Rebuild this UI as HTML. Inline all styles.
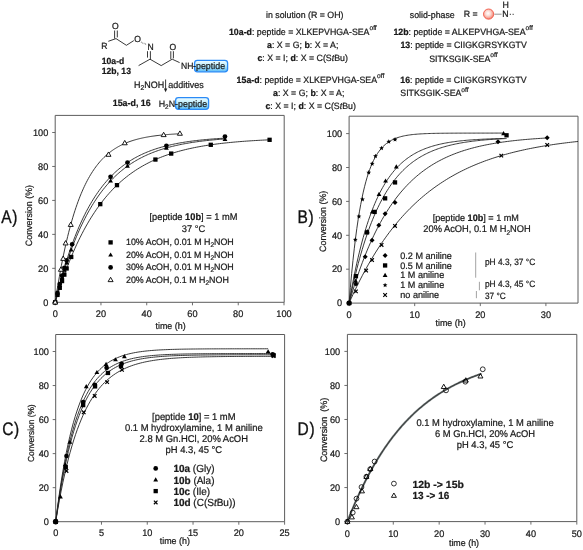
<!DOCTYPE html>
<html><head><meta charset="utf-8"><title>Figure</title>
<style>html,body{margin:0;padding:0;background:#fff;}svg{display:block;}text{stroke:#1a1a1a;stroke-width:0.22px;}</style>
</head><body>
<svg width="583" height="550" viewBox="0 0 583 550" font-family='"Liberation Sans", Arial, sans-serif'>
<rect width="583" height="550" fill="#fff"/>
<defs>
<linearGradient id="pill" x1="0" y1="0" x2="0" y2="1">
<stop offset="0" stop-color="#f2fdff"/><stop offset="0.45" stop-color="#bdeeff"/><stop offset="1" stop-color="#5cbcf6"/>
</linearGradient>
<radialGradient id="ball" cx="0.45" cy="0.42" r="0.62">
<stop offset="0" stop-color="#ffffff"/><stop offset="0.4" stop-color="#fcdcd5"/><stop offset="0.75" stop-color="#f7a092"/><stop offset="1" stop-color="#f06a58"/>
</radialGradient>
</defs>
<path d="M108.3 41.3L116 38.6L126.4 45.3L133.8 40.6" fill="none" stroke="#222" stroke-width="0.9"/><path d="M114.6 30.5V38.6M117.3 30.5V37.4" stroke="#222" stroke-width="0.9"/><path d="M141 42.2L146.6 44.6" stroke="#777" stroke-width="1.4" stroke-dasharray="0.7 0.8"/><path d="M147.5 51.2V57.6M150.4 51.2V59.4" stroke="#222" stroke-width="0.9"/><path d="M138.6 65.6L150 59.2L161.2 65.6L172.2 59.2L179.6 62.6" fill="none" stroke="#222" stroke-width="0.9"/><path d="M170.8 51.2V59.2M173.4 51.2V58.4" stroke="#222" stroke-width="0.9"/><text x="101.3" y="48.8" font-size="8.6" fill="#1a1a1a" transform="matrix(1 0 0.000524 1.04 -0.03 -1.95)">R</text><text x="112" y="29.3" font-size="8.6" fill="#1a1a1a" transform="matrix(1 0 0.000524 1.04 -0.02 -1.17)">O</text><text x="134.2" y="42.3" font-size="8.6" fill="#1a1a1a" transform="matrix(1 0 0.000524 1.04 -0.02 -1.69)">O</text><text x="147.5" y="50.0" font-size="8.6" fill="#1a1a1a" transform="matrix(1 0 0.000524 1.04 -0.03 -2)">N</text><text x="169.5" y="50.1" font-size="8.6" fill="#1a1a1a" transform="matrix(1 0 0.000524 1.04 -0.03 -2)">O</text><text x="181" y="69.5" font-size="8.6" fill="#1a1a1a" transform="matrix(1 0 0.000524 1.04 -0.04 -2.78)">NH</text><text x="101.8" y="63.7" font-size="8.6" font-weight="bold" fill="#1a1a1a" transform="matrix(1 0 0.000524 1.04 -0.03 -2.55)">10a-d</text><text x="101.8" y="73.6" font-size="8.6" font-weight="bold" fill="#1a1a1a" transform="matrix(1 0 0.000524 1.04 -0.04 -2.94)">12b, 13</text><rect x="194.6" y="60.3" width="33" height="11.5" rx="2.8" fill="url(#pill)" stroke="#2a8af6" stroke-width="1.3"/><text x="193" y="68.8" font-size="8.9" fill="#1a1a1a" transform="matrix(1 0 0.000524 1.04 -0.04 -2.75)">-peptide</text><path d="M165.6 79.5V89.5" stroke="#222" stroke-width="0.9"/><path d="M163.9 88.6L165.6 92.2L167.3 88.6Z" fill="#222"/><text x="134" y="87.8" font-size="9" fill="#1a1a1a" transform="matrix(1 0 0.000524 1.04 -0.05 -3.51)">H<tspan font-size="6.8" dy="2.2">2</tspan><tspan dy="-2.2">NOH</tspan></text><text x="168.3" y="87.8" font-size="9" fill="#1a1a1a" transform="matrix(1 0 0.000524 1.04 -0.05 -3.51)">additives</text><text x="112.7" y="106.4" font-size="8.9" font-weight="bold" fill="#1a1a1a" transform="matrix(1 0 0.000524 1.04 -0.06 -4.26)">15a-d, 16</text><rect x="175.6" y="97.7" width="33" height="11.6" rx="2.8" fill="url(#pill)" stroke="#2a8af6" stroke-width="1.3"/><text x="158.7" y="106.6" font-size="8.9" fill="#1a1a1a" transform="matrix(1 0 0.000524 1.04 -0.06 -4.26)">H<tspan font-size="6.4" dy="2">2</tspan><tspan dy="-2">N-peptide</tspan></text>
<text x="266" y="17.9" font-size="8.8" fill="#1a1a1a" transform="matrix(1 0 0.000524 1.04 -0.01 -0.72)">in solution (R = OH)</text><text x="229" y="34.8" font-size="8.8" fill="#1a1a1a" transform="matrix(1 0 0.000524 1.04 -0.02 -1.39)"><tspan font-weight="bold">10a-d</tspan>: peptide = XLKEPVHGA-SEA<tspan font-size="6.6" dy="-4.4">off</tspan></text><text x="267" y="47.9" font-size="8.8" fill="#1a1a1a" transform="matrix(1 0 0.000524 1.04 -0.03 -1.92)"><tspan font-weight="bold">a</tspan>: X = G; <tspan font-weight="bold">b</tspan>: X = A;</text><text x="257.4" y="61" font-size="8.8" fill="#1a1a1a" transform="matrix(1 0 0.000524 1.04 -0.03 -2.44)"><tspan font-weight="bold">c</tspan>: X = I; <tspan font-weight="bold">d</tspan>: X = C(S<tspan font-style="italic">t</tspan>Bu)</text><text x="236.6" y="83" font-size="8.8" fill="#1a1a1a" transform="matrix(1 0 0.000524 1.04 -0.04 -3.32)"><tspan font-weight="bold">15a-d</tspan>: peptide = XLKEPVHGA-SEA<tspan font-size="6.6" dy="-4.4">off</tspan></text><text x="273" y="96.2" font-size="8.8" fill="#1a1a1a" transform="matrix(1 0 0.000524 1.04 -0.05 -3.85)"><tspan font-weight="bold">a</tspan>: X = G; <tspan font-weight="bold">b</tspan>: X = A;</text><text x="265.4" y="109.3" font-size="8.8" fill="#1a1a1a" transform="matrix(1 0 0.000524 1.04 -0.06 -4.37)"><tspan font-weight="bold">c</tspan>: X = I; <tspan font-weight="bold">d</tspan>: X = C(S<tspan font-style="italic">t</tspan>Bu)</text><text x="409.8" y="17.8" font-size="8.8" fill="#1a1a1a" transform="matrix(1 0 0.000524 1.04 -0.01 -0.71)">solid-phase</text><text x="463.8" y="17.4" font-size="8.8" fill="#1a1a1a" transform="matrix(1 0 0.000524 1.04 -0.01 -0.7)">R =</text><circle cx="488.6" cy="14.1" r="5.1" fill="url(#ball)" stroke="#f05a48" stroke-width="0.9"/><path d="M494.3 14.2H501.6" stroke="#888" stroke-width="0.9"/><text x="502.2" y="17.2" font-size="8.8" fill="#1a1a1a" transform="matrix(1 0 0.000524 1.04 -0.01 -0.69)">N</text><text x="502.4" y="7.8" font-size="8.8" fill="#1a1a1a" transform="matrix(1 0 0.000524 1.04 -0 -0.31)">H</text><path d="M509.8 14.3h1.1M512.6 14.3h1.1" stroke="#222" stroke-width="1"/><text x="393.4" y="34.7" font-size="8.8" fill="#1a1a1a" transform="matrix(1 0 0.000524 1.04 -0.02 -1.39)"><tspan font-weight="bold">12b</tspan>: peptide = ALKEPVHGA-SEA<tspan font-size="6.6" dy="-4.4">off</tspan></text><text x="400.5" y="48.2" font-size="8.8" fill="#1a1a1a" transform="matrix(1 0 0.000524 1.04 -0.03 -1.93)"><tspan font-weight="bold">13</tspan>: peptide = CIIGKGRSYKGTV</text><text x="429.2" y="61.6" font-size="8.8" fill="#1a1a1a" transform="matrix(1 0 0.000524 1.04 -0.03 -2.46)">SITKSGIK-SEA<tspan font-size="6.6" dy="-4.4">off</tspan></text><text x="400.3" y="82.9" font-size="8.8" fill="#1a1a1a" transform="matrix(1 0 0.000524 1.04 -0.04 -3.32)"><tspan font-weight="bold">16</tspan>: peptide = CIIGKGRSYKGTV</text><text x="400.3" y="96.3" font-size="8.8" fill="#1a1a1a" transform="matrix(1 0 0.000524 1.04 -0.05 -3.85)">SITKSGIK-SEA<tspan font-size="6.6" dy="-4.4">off</tspan></text>
<text transform="translate(1.3 222.7) scale(0.89 1) skewX(0.03) scale(1 1.04)" font-size="17.5" fill="#111" letter-spacing="0.7" style="stroke:#111;stroke-width:0.3px">A)</text>
<text transform="translate(297.4 222.6) scale(0.89 1) skewX(0.03) scale(1 1.04)" font-size="17.5" fill="#111" letter-spacing="0.7" style="stroke:#111;stroke-width:0.3px">B)</text>
<text transform="translate(2.2 434.6) scale(0.89 1) skewX(0.03) scale(1 1.04)" font-size="17.5" fill="#111" letter-spacing="0.7" style="stroke:#111;stroke-width:0.3px">C)</text>
<text transform="translate(297.6 434.6) scale(0.89 1) skewX(0.03) scale(1 1.04)" font-size="17.5" fill="#111" letter-spacing="0.7" style="stroke:#111;stroke-width:0.3px">D)</text>
<path d="M55.2 115.4H284.2V302.3H55.2Z" fill="none" stroke="#5c5c5c" stroke-width="1"/><path d="M55.2 302.3v3" stroke="#5c5c5c" stroke-width="0.9"/><text x="55.2" y="317.5" text-anchor="middle" font-size="9.2" fill="#1a1a1a" transform="matrix(1 0 0.000524 1.04 -0.17 -12.7)">0</text><path d="M100.96 302.3v3" stroke="#5c5c5c" stroke-width="0.9"/><text x="100.96" y="317.5" text-anchor="middle" font-size="9.2" fill="#1a1a1a" transform="matrix(1 0 0.000524 1.04 -0.17 -12.7)">20</text><path d="M146.72 302.3v3" stroke="#5c5c5c" stroke-width="0.9"/><text x="146.72" y="317.5" text-anchor="middle" font-size="9.2" fill="#1a1a1a" transform="matrix(1 0 0.000524 1.04 -0.17 -12.7)">40</text><path d="M192.48 302.3v3" stroke="#5c5c5c" stroke-width="0.9"/><text x="192.48" y="317.5" text-anchor="middle" font-size="9.2" fill="#1a1a1a" transform="matrix(1 0 0.000524 1.04 -0.17 -12.7)">60</text><path d="M238.24 302.3v3" stroke="#5c5c5c" stroke-width="0.9"/><text x="238.24" y="317.5" text-anchor="middle" font-size="9.2" fill="#1a1a1a" transform="matrix(1 0 0.000524 1.04 -0.17 -12.7)">80</text><path d="M284 302.3v3" stroke="#5c5c5c" stroke-width="0.9"/><text x="284" y="317.5" text-anchor="middle" font-size="9.2" fill="#1a1a1a" transform="matrix(1 0 0.000524 1.04 -0.17 -12.7)">100</text><path d="M55.2 302.3h-3" stroke="#5c5c5c" stroke-width="0.9"/><text x="48.3" y="305.6" text-anchor="end" font-size="9.2" fill="#1a1a1a" transform="matrix(1 0 0.000524 1.04 -0.16 -12.22)">0</text><path d="M55.2 268.34h-3" stroke="#5c5c5c" stroke-width="0.9"/><text x="48.3" y="271.64" text-anchor="end" font-size="9.2" fill="#1a1a1a" transform="matrix(1 0 0.000524 1.04 -0.14 -10.87)">20</text><path d="M55.2 234.38h-3" stroke="#5c5c5c" stroke-width="0.9"/><text x="48.3" y="237.68" text-anchor="end" font-size="9.2" fill="#1a1a1a" transform="matrix(1 0 0.000524 1.04 -0.12 -9.51)">40</text><path d="M55.2 200.42h-3" stroke="#5c5c5c" stroke-width="0.9"/><text x="48.3" y="203.72" text-anchor="end" font-size="9.2" fill="#1a1a1a" transform="matrix(1 0 0.000524 1.04 -0.11 -8.15)">60</text><path d="M55.2 166.46h-3" stroke="#5c5c5c" stroke-width="0.9"/><text x="48.3" y="169.76" text-anchor="end" font-size="9.2" fill="#1a1a1a" transform="matrix(1 0 0.000524 1.04 -0.09 -6.79)">80</text><path d="M55.2 132.5h-3" stroke="#5c5c5c" stroke-width="0.9"/><text x="48.3" y="135.8" text-anchor="end" font-size="9.2" fill="#1a1a1a" transform="matrix(1 0 0.000524 1.04 -0.07 -5.43)">100</text>
<text transform="translate(32 215.6) rotate(-90) skewX(0.03) scale(1 1.04)" text-anchor="middle" font-size="8.9" fill="#1a1a1a">Conversion (%)</text>
<text x="170.6" y="329.3" text-anchor="middle" font-size="8.9" fill="#1a1a1a" transform="matrix(1 0 0.000524 1.04 -0.17 -13.17)">time (h)</text>
<path d="M55.2 302.3L56.24 295.5L57.28 288.97L58.32 282.7L59.36 276.69L60.4 270.91L61.43 265.37L62.47 260.05L63.51 254.94L64.55 250.04L65.59 245.33L66.63 240.81L67.67 236.47L68.71 232.31L69.75 228.31L70.79 224.47L71.83 220.79L72.87 217.25L73.9 213.86L74.94 210.6L75.98 207.47L77.02 204.47L78.06 201.59L79.1 198.82L80.14 196.16L81.18 193.61L82.22 191.17L83.26 188.82L84.3 186.56L85.33 184.4L86.37 182.32L87.41 180.32L88.45 178.41L89.49 176.57L90.53 174.8L91.57 173.11L92.61 171.48L93.65 169.92L94.69 168.42L95.73 166.98L96.77 165.6L97.8 164.28L98.84 163L99.88 161.78L100.92 160.61L101.96 159.48L103 158.4L104.04 157.37L105.08 156.37L106.12 155.41L107.16 154.5L108.2 153.62L109.23 152.77L110.27 151.96L111.31 151.18L112.35 150.43L113.39 149.71L114.43 149.02L115.47 148.36L116.51 147.73L117.55 147.12L118.59 146.53L119.63 145.97L120.67 145.43L121.7 144.91L122.74 144.41L123.78 143.94L124.82 143.48L125.86 143.04L126.9 142.62L127.94 142.21L128.98 141.82L130.02 141.45L131.06 141.09L132.1 140.75L133.13 140.42L134.17 140.1L135.21 139.8L136.25 139.5L137.29 139.22L138.33 138.95L139.37 138.7L140.41 138.45L141.45 138.21L142.49 137.98L143.53 137.76L144.57 137.55L145.6 137.35L146.64 137.15L147.68 136.97L148.72 136.79L149.76 136.62L150.8 136.45L151.84 136.29L152.88 136.14L153.92 136L154.96 135.86L156 135.72L157.04 135.59L158.07 135.47L159.11 135.35L160.15 135.24L161.19 135.13L162.23 135.02L163.27 134.92L164.31 134.82L165.35 134.73L166.39 134.64L167.43 134.55L168.47 134.47L169.5 134.39L170.54 134.32L171.58 134.24L172.62 134.17L173.66 134.11L174.7 134.04L175.74 133.98L176.78 133.92L177.82 133.87L178.86 133.81L179.9 133.76" fill="none" stroke="#222" stroke-width="0.9"/>
<path d="M55.2 302.3L56.61 296.44L58.03 290.78L59.44 285.33L60.86 280.06L62.27 274.98L63.69 270.08L65.1 265.36L66.52 260.8L67.93 256.4L69.35 252.15L70.76 248.06L72.18 244.1L73.59 240.29L75.01 236.61L76.42 233.07L77.84 229.64L79.25 226.34L80.67 223.15L82.08 220.08L83.49 217.12L84.91 214.25L86.32 211.49L87.74 208.83L89.15 206.26L90.57 203.78L91.98 201.39L93.4 199.08L94.81 196.86L96.23 194.71L97.64 192.64L99.06 190.64L100.47 188.71L101.89 186.85L103.3 185.06L104.72 183.32L106.13 181.65L107.55 180.04L108.96 178.49L110.38 176.99L111.79 175.54L113.2 174.14L114.62 172.79L116.03 171.49L117.45 170.24L118.86 169.03L120.28 167.86L121.69 166.74L123.11 165.65L124.52 164.6L125.94 163.59L127.35 162.62L128.77 161.67L130.18 160.77L131.6 159.89L133.01 159.04L134.43 158.23L135.84 157.44L137.26 156.68L138.67 155.95L140.08 155.24L141.5 154.56L142.91 153.91L144.33 153.27L145.74 152.66L147.16 152.07L148.57 151.5L149.99 150.95L151.4 150.42L152.82 149.91L154.23 149.41L155.65 148.94L157.06 148.48L158.48 148.03L159.89 147.61L161.31 147.19L162.72 146.8L164.14 146.41L165.55 146.04L166.96 145.68L168.38 145.34L169.79 145.01L171.21 144.69L172.62 144.38L174.04 144.08L175.45 143.79L176.87 143.51L178.28 143.24L179.7 142.98L181.11 142.73L182.53 142.49L183.94 142.26L185.36 142.04L186.77 141.82L188.19 141.61L189.6 141.41L191.02 141.22L192.43 141.03L193.85 140.85L195.26 140.67L196.67 140.51L198.09 140.34L199.5 140.19L200.92 140.04L202.33 139.89L203.75 139.75L205.16 139.61L206.58 139.48L207.99 139.36L209.41 139.23L210.82 139.12L212.24 139L213.65 138.89L215.07 138.79L216.48 138.69L217.9 138.59L219.31 138.49L220.73 138.4L222.14 138.31L223.55 138.23L224.97 138.15" fill="none" stroke="#222" stroke-width="0.9"/>
<path d="M55.2 302.3L56.61 296.84L58.03 291.55L59.44 286.44L60.86 281.5L62.27 276.71L63.69 272.09L65.1 267.62L66.52 263.29L67.93 259.11L69.35 255.06L70.76 251.15L72.18 247.36L73.59 243.7L75.01 240.16L76.42 236.74L77.84 233.43L79.25 230.22L80.67 227.13L82.08 224.13L83.49 221.23L84.91 218.43L86.32 215.72L87.74 213.1L89.15 210.56L90.57 208.11L91.98 205.74L93.4 203.45L94.81 201.23L96.23 199.08L97.64 197.01L99.06 195L100.47 193.06L101.89 191.18L103.3 189.37L104.72 187.61L106.13 185.91L107.55 184.27L108.96 182.68L110.38 181.15L111.79 179.66L113.2 178.22L114.62 176.83L116.03 175.49L117.45 174.19L118.86 172.93L120.28 171.72L121.69 170.54L123.11 169.4L124.52 168.3L125.94 167.24L127.35 166.21L128.77 165.21L130.18 164.25L131.6 163.32L133.01 162.42L134.43 161.55L135.84 160.7L137.26 159.89L138.67 159.1L140.08 158.34L141.5 157.6L142.91 156.89L144.33 156.2L145.74 155.53L147.16 154.89L148.57 154.27L149.99 153.66L151.4 153.08L152.82 152.51L154.23 151.97L155.65 151.44L157.06 150.93L158.48 150.44L159.89 149.96L161.31 149.5L162.72 149.05L164.14 148.62L165.55 148.2L166.96 147.8L168.38 147.41L169.79 147.03L171.21 146.66L172.62 146.31L174.04 145.97L175.45 145.64L176.87 145.32L178.28 145.01L179.7 144.71L181.11 144.42L182.53 144.14L183.94 143.87L185.36 143.61L186.77 143.35L188.19 143.11L189.6 142.87L191.02 142.64L192.43 142.42L193.85 142.21L195.26 142L196.67 141.8L198.09 141.6L199.5 141.42L200.92 141.24L202.33 141.06L203.75 140.89L205.16 140.73L206.58 140.57L207.99 140.42L209.41 140.27L210.82 140.12L212.24 139.98L213.65 139.85L215.07 139.72L216.48 139.59L217.9 139.47L219.31 139.36L220.73 139.24L222.14 139.13L223.55 139.03L224.97 138.92" fill="none" stroke="#222" stroke-width="0.9"/>
<path d="M55.2 302.3L56.99 296.49L58.77 290.88L60.56 285.47L62.35 280.26L64.13 275.22L65.92 270.37L67.71 265.68L69.49 261.16L71.28 256.81L73.07 252.6L74.85 248.54L76.64 244.63L78.43 240.85L80.21 237.21L82 233.69L83.78 230.3L85.57 227.03L87.36 223.88L89.14 220.83L90.93 217.9L92.72 215.06L94.5 212.33L96.29 209.69L98.08 207.15L99.86 204.7L101.65 202.33L103.44 200.04L105.22 197.84L107.01 195.72L108.8 193.66L110.58 191.69L112.37 189.78L114.16 187.94L115.94 186.16L117.73 184.45L119.52 182.79L121.3 181.2L123.09 179.66L124.88 178.18L126.66 176.75L128.45 175.36L130.23 174.03L132.02 172.75L133.81 171.51L135.59 170.31L137.38 169.15L139.17 168.04L140.95 166.97L142.74 165.93L144.53 164.93L146.31 163.97L148.1 163.04L149.89 162.14L151.67 161.27L153.46 160.44L155.25 159.63L157.03 158.85L158.82 158.1L160.61 157.38L162.39 156.68L164.18 156.01L165.97 155.36L167.75 154.73L169.54 154.13L171.33 153.54L173.11 152.98L174.9 152.44L176.69 151.91L178.47 151.41L180.26 150.92L182.04 150.45L183.83 150L185.62 149.56L187.4 149.14L189.19 148.73L190.98 148.34L192.76 147.96L194.55 147.59L196.34 147.24L198.12 146.9L199.91 146.57L201.7 146.26L203.48 145.95L205.27 145.65L207.06 145.37L208.84 145.1L210.63 144.83L212.42 144.58L214.2 144.33L215.99 144.09L217.78 143.86L219.56 143.64L221.35 143.43L223.14 143.22L224.92 143.02L226.71 142.83L228.5 142.65L230.28 142.47L232.07 142.3L233.85 142.13L235.64 141.97L237.43 141.82L239.21 141.67L241 141.52L242.79 141.39L244.57 141.25L246.36 141.12L248.15 141L249.93 140.88L251.72 140.76L253.51 140.65L255.29 140.54L257.08 140.44L258.87 140.34L260.65 140.24L262.44 140.15L264.23 140.06L266.01 139.97L267.8 139.89L269.59 139.81" fill="none" stroke="#222" stroke-width="0.9"/>
<rect x="53.05" y="300.15" width="4.3" height="4.3" fill="#000"/><rect x="55.34" y="292.75" width="4.3" height="4.3" fill="#000"/><rect x="57.63" y="285.67" width="4.3" height="4.3" fill="#000"/><rect x="59.91" y="278.92" width="4.3" height="4.3" fill="#000"/><rect x="62.2" y="272.47" width="4.3" height="4.3" fill="#000"/><rect x="64.49" y="266.31" width="4.3" height="4.3" fill="#000"/><rect x="69.07" y="254.81" width="4.3" height="4.3" fill="#000"/><rect x="98.12" y="201.99" width="4.3" height="4.3" fill="#000"/><rect x="114.83" y="183.01" width="4.3" height="4.3" fill="#000"/><rect x="153.26" y="157.41" width="4.3" height="4.3" fill="#000"/><rect x="169.05" y="151.43" width="4.3" height="4.3" fill="#000"/><rect x="208.63" y="142.66" width="4.3" height="4.3" fill="#000"/><rect x="267.44" y="137.66" width="4.3" height="4.3" fill="#000"/>
<path d="M55.2 299.79L57.6 303.97L52.8 303.97Z" fill="#000"/><path d="M57.49 291.05L59.89 295.22L55.09 295.22Z" fill="#000"/><path d="M59.78 282.76L62.18 286.94L57.38 286.94Z" fill="#000"/><path d="M62.06 274.91L64.46 279.08L59.66 279.08Z" fill="#000"/><path d="M64.35 267.47L66.75 271.64L61.95 271.64Z" fill="#000"/><path d="M66.64 260.42L69.04 264.6L64.24 264.6Z" fill="#000"/><path d="M71.22 247.42L73.62 251.59L68.82 251.59Z" fill="#000"/><path d="M110.57 178.43L112.97 182.61L108.17 182.61Z" fill="#000"/><path d="M127.5 163.6L129.9 167.77L125.1 167.77Z" fill="#000"/><path d="M166.4 145.45L168.8 149.63L164 149.63Z" fill="#000"/>
<path d="M224.97 136.79L227.37 140.96L222.57 140.96Z" fill="#000"/>
<circle cx="55.2" cy="302.3" r="2.35" fill="#000"/><circle cx="57.49" cy="292.92" r="2.35" fill="#000"/><circle cx="59.78" cy="284.07" r="2.35" fill="#000"/><circle cx="62.06" cy="275.72" r="2.35" fill="#000"/><circle cx="64.35" cy="267.85" r="2.35" fill="#000"/><circle cx="66.64" cy="260.41" r="2.35" fill="#000"/><circle cx="72.13" cy="244.23" r="2.35" fill="#000"/><circle cx="110.57" cy="176.78" r="2.35" fill="#000"/><circle cx="127.5" cy="162.51" r="2.35" fill="#000"/><circle cx="166.4" cy="145.83" r="2.35" fill="#000"/>
<circle cx="224.97" cy="136.58" r="2.35" fill="#000"/>
<path d="M55.2 299.69L57.7 304.04L52.7 304.04Z" fill="#fff" stroke="#000" stroke-width="0.9"/><path d="M60.92 266.92L63.42 271.27L58.42 271.27Z" fill="#fff" stroke="#000" stroke-width="0.9"/><path d="M63.21 256.05L65.71 260.4L60.71 260.4Z" fill="#fff" stroke="#000" stroke-width="0.9"/><path d="M65.61 240.6L68.11 244.95L63.11 244.95Z" fill="#fff" stroke="#000" stroke-width="0.9"/><path d="M70.76 222.09L73.26 226.44L68.26 226.44Z" fill="#fff" stroke="#000" stroke-width="0.9"/><path d="M108.51 151.96L111.01 156.31L106.01 156.31Z" fill="#fff" stroke="#000" stroke-width="0.9"/><path d="M124.76 140.42L127.26 144.77L122.26 144.77Z" fill="#fff" stroke="#000" stroke-width="0.9"/><path d="M163.65 132.27L166.15 136.62L161.15 136.62Z" fill="#fff" stroke="#000" stroke-width="0.9"/><path d="M179.9 130.91L182.4 135.26L177.4 135.26Z" fill="#fff" stroke="#000" stroke-width="0.9"/>
<text x="193.5" y="220" text-anchor="middle" font-size="9.3" fill="#1a1a1a" transform="matrix(1 0 0.000524 1.04 -0.12 -8.8)">[peptide <tspan font-weight="bold">10b</tspan>] = 1 mM</text>
<text x="193.5" y="231.6" text-anchor="middle" font-size="9.3" fill="#1a1a1a" transform="matrix(1 0 0.000524 1.04 -0.12 -9.26)">37 °C</text>
<rect x="108.45" y="240.25" width="4.3" height="4.3" fill="#000"/>
<text x="126" y="245.2" font-size="8.9" fill="#1a1a1a" transform="matrix(1 0 0.000524 1.04 -0.13 -9.81)">10% AcOH, 0.01 M H<tspan font-size="6.5" dy="2.2">2</tspan><tspan dy="-2.2">NOH</tspan></text>
<path d="M110.6 252.39L113 256.57L108.2 256.57Z" fill="#000"/>
<text x="126" y="257.7" font-size="8.9" fill="#1a1a1a" transform="matrix(1 0 0.000524 1.04 -0.14 -10.31)">20% AcOH, 0.01 M H<tspan font-size="6.5" dy="2.2">2</tspan><tspan dy="-2.2">NOH</tspan></text>
<circle cx="110.6" cy="267.4" r="2.35" fill="#000"/>
<text x="126" y="270.2" font-size="8.9" fill="#1a1a1a" transform="matrix(1 0 0.000524 1.04 -0.14 -10.81)">30% AcOH, 0.01 M H<tspan font-size="6.5" dy="2.2">2</tspan><tspan dy="-2.2">NOH</tspan></text>
<path d="M110.6 277.29L113.1 281.64L108.1 281.64Z" fill="#fff" stroke="#000" stroke-width="0.9"/>
<text x="126" y="282.7" font-size="8.9" fill="#1a1a1a" transform="matrix(1 0 0.000524 1.04 -0.15 -11.31)">20% AcOH, 0.1 M H<tspan font-size="6.5" dy="2.2">2</tspan><tspan dy="-2.2">NOH</tspan></text>
<path d="M349.1 116.2H578V303.1H349.1Z" fill="none" stroke="#5c5c5c" stroke-width="1"/><path d="M349.1 303.1v3" stroke="#5c5c5c" stroke-width="0.9"/><text x="349.1" y="317.9" text-anchor="middle" font-size="9.2" fill="#1a1a1a" transform="matrix(1 0 0.000524 1.04 -0.17 -12.72)">0</text><path d="M414.7 303.1v3" stroke="#5c5c5c" stroke-width="0.9"/><text x="414.7" y="317.9" text-anchor="middle" font-size="9.2" fill="#1a1a1a" transform="matrix(1 0 0.000524 1.04 -0.17 -12.72)">10</text><path d="M480.3 303.1v3" stroke="#5c5c5c" stroke-width="0.9"/><text x="480.3" y="317.9" text-anchor="middle" font-size="9.2" fill="#1a1a1a" transform="matrix(1 0 0.000524 1.04 -0.17 -12.72)">20</text><path d="M545.9 303.1v3" stroke="#5c5c5c" stroke-width="0.9"/><text x="545.9" y="317.9" text-anchor="middle" font-size="9.2" fill="#1a1a1a" transform="matrix(1 0 0.000524 1.04 -0.17 -12.72)">30</text><path d="M349.1 303.1h-3" stroke="#5c5c5c" stroke-width="0.9"/><text x="342.2" y="306.4" text-anchor="end" font-size="9.2" fill="#1a1a1a" transform="matrix(1 0 0.000524 1.04 -0.16 -12.26)">0</text><path d="M349.1 269.2h-3" stroke="#5c5c5c" stroke-width="0.9"/><text x="342.2" y="272.5" text-anchor="end" font-size="9.2" fill="#1a1a1a" transform="matrix(1 0 0.000524 1.04 -0.14 -10.9)">20</text><path d="M349.1 235.3h-3" stroke="#5c5c5c" stroke-width="0.9"/><text x="342.2" y="238.6" text-anchor="end" font-size="9.2" fill="#1a1a1a" transform="matrix(1 0 0.000524 1.04 -0.13 -9.54)">40</text><path d="M349.1 201.4h-3" stroke="#5c5c5c" stroke-width="0.9"/><text x="342.2" y="204.7" text-anchor="end" font-size="9.2" fill="#1a1a1a" transform="matrix(1 0 0.000524 1.04 -0.11 -8.19)">60</text><path d="M349.1 167.5h-3" stroke="#5c5c5c" stroke-width="0.9"/><text x="342.2" y="170.8" text-anchor="end" font-size="9.2" fill="#1a1a1a" transform="matrix(1 0 0.000524 1.04 -0.09 -6.83)">80</text><path d="M349.1 133.6h-3" stroke="#5c5c5c" stroke-width="0.9"/><text x="342.2" y="136.9" text-anchor="end" font-size="9.2" fill="#1a1a1a" transform="matrix(1 0 0.000524 1.04 -0.07 -5.48)">100</text>
<text transform="translate(326 221.3) rotate(-90) skewX(0.03) scale(1 1.04)" text-anchor="middle" font-size="8.9" fill="#1a1a1a">Conversion (%)</text>
<text x="450.6" y="326.4" text-anchor="middle" font-size="8.9" fill="#1a1a1a" transform="matrix(1 0 0.000524 1.04 -0.17 -13.06)">time (h)</text>
<path d="M349.1 303.1L350.39 287.51L351.67 273.36L352.96 260.5L354.25 248.81L355.54 238.2L356.82 228.57L358.11 219.81L359.4 211.86L360.69 204.64L361.97 198.08L363.26 192.12L364.55 186.71L365.84 181.79L367.12 177.33L368.41 173.27L369.7 169.59L370.99 166.24L372.27 163.2L373.56 160.44L374.85 157.94L376.14 155.66L377.42 153.59L378.71 151.71L380 150L381.29 148.45L382.57 147.04L383.86 145.76L385.15 144.6L386.43 143.55L387.72 142.59L389.01 141.72L390.3 140.93L391.58 140.21L392.87 139.56L394.16 138.96L395.45 138.42L396.73 137.94L398.02 137.49L399.31 137.09L400.6 136.72L401.88 136.39L403.17 136.09L404.46 135.81L405.75 135.56L407.03 135.34L408.32 135.13L409.61 134.94L410.9 134.77L412.18 134.62L413.47 134.48L414.76 134.35L416.04 134.24L417.33 134.13L418.62 134.04L419.91 133.95L421.19 133.87L422.48 133.8L423.77 133.73L425.06 133.68L426.34 133.62L427.63 133.57L428.92 133.53L430.21 133.49L431.49 133.45L432.78 133.42L434.07 133.39L435.36 133.36L436.64 133.34L437.93 133.31L439.22 133.29L440.51 133.28L441.79 133.26L443.08 133.24L444.37 133.23L445.66 133.22L446.94 133.21L448.23 133.19L449.52 133.19L450.8 133.18L452.09 133.17L453.38 133.16L454.67 133.16L455.95 133.15L457.24 133.14L458.53 133.14L459.82 133.14L461.1 133.13L462.39 133.13L463.68 133.12L464.97 133.12L466.25 133.12L467.54 133.12L468.83 133.11L470.12 133.11L471.4 133.11L472.69 133.11L473.98 133.11L475.27 133.11L476.55 133.1L477.84 133.1L479.13 133.1L480.41 133.1L481.7 133.1L482.99 133.1L484.28 133.1L485.56 133.1L486.85 133.1L488.14 133.1L489.43 133.1L490.71 133.1L492 133.1L493.29 133.1L494.58 133.09L495.86 133.09L497.15 133.09L498.44 133.09L499.73 133.09L501.01 133.09L502.3 133.09L503.59 133.09" fill="none" stroke="#222" stroke-width="0.9"/>
<path d="M349.1 303.1L350.39 295.65L351.67 288.54L352.96 281.75L354.25 275.26L355.54 269.07L356.82 263.15L358.11 257.5L359.4 252.11L360.69 246.96L361.97 242.04L363.26 237.34L364.55 232.86L365.84 228.58L367.12 224.49L368.41 220.58L369.7 216.85L370.99 213.29L372.27 209.89L373.56 206.64L374.85 203.54L376.14 200.58L377.42 197.75L378.71 195.05L380 192.47L381.29 190.01L382.57 187.66L383.86 185.41L385.15 183.27L386.43 181.22L387.72 179.27L389.01 177.4L390.3 175.62L391.58 173.91L392.87 172.29L394.16 170.73L395.45 169.25L396.73 167.84L398.02 166.48L399.31 165.19L400.6 163.96L401.88 162.78L403.17 161.66L404.46 160.58L405.75 159.56L407.03 158.58L408.32 157.65L409.61 156.75L410.9 155.9L412.18 155.09L413.47 154.31L414.76 153.57L416.04 152.86L417.33 152.18L418.62 151.53L419.91 150.92L421.19 150.33L422.48 149.76L423.77 149.23L425.06 148.71L426.34 148.22L427.63 147.75L428.92 147.31L430.21 146.88L431.49 146.47L432.78 146.08L434.07 145.71L435.36 145.36L436.64 145.02L437.93 144.69L439.22 144.39L440.51 144.09L441.79 143.81L443.08 143.54L444.37 143.28L445.66 143.04L446.94 142.8L448.23 142.58L449.52 142.37L450.8 142.16L452.09 141.97L453.38 141.78L454.67 141.6L455.95 141.43L457.24 141.27L458.53 141.12L459.82 140.97L461.1 140.83L462.39 140.69L463.68 140.56L464.97 140.44L466.25 140.32L467.54 140.21L468.83 140.1L470.12 140L471.4 139.9L472.69 139.81L473.98 139.72L475.27 139.64L476.55 139.56L477.84 139.48L479.13 139.41L480.41 139.33L481.7 139.27L482.99 139.2L484.28 139.14L485.56 139.08L486.85 139.03L488.14 138.97L489.43 138.92L490.71 138.87L492 138.83L493.29 138.78L494.58 138.74L495.86 138.7L497.15 138.66L498.44 138.62L499.73 138.59L501.01 138.55L502.3 138.52L503.59 138.49" fill="none" stroke="#222" stroke-width="0.9"/>
<path d="M349.1 303.1L350.41 296.75L351.72 290.64L353.04 284.76L354.35 279.11L355.66 273.67L356.97 268.44L358.28 263.42L359.6 258.58L360.91 253.93L362.22 249.46L363.53 245.15L364.84 241.02L366.16 237.04L367.47 233.21L368.78 229.53L370.09 225.99L371.4 222.59L372.72 219.31L374.03 216.16L375.34 213.14L376.65 210.22L377.96 207.42L379.28 204.73L380.59 202.14L381.9 199.65L383.21 197.25L384.52 194.94L385.84 192.73L387.15 190.6L388.46 188.55L389.77 186.57L391.08 184.68L392.4 182.85L393.71 181.1L395.02 179.41L396.33 177.79L397.64 176.23L398.96 174.73L400.27 173.28L401.58 171.9L402.89 170.56L404.2 169.28L405.52 168.04L406.83 166.85L408.14 165.71L409.45 164.61L410.76 163.56L412.08 162.54L413.39 161.56L414.7 160.62L416.01 159.72L417.32 158.85L418.64 158.01L419.95 157.21L421.26 156.44L422.57 155.69L423.88 154.98L425.2 154.29L426.51 153.63L427.82 152.99L429.13 152.38L430.44 151.79L431.76 151.22L433.07 150.68L434.38 150.16L435.69 149.65L437 149.17L438.32 148.7L439.63 148.25L440.94 147.82L442.25 147.41L443.56 147.01L444.88 146.63L446.19 146.26L447.5 145.9L448.81 145.56L450.12 145.24L451.44 144.92L452.75 144.62L454.06 144.32L455.37 144.04L456.68 143.77L458 143.52L459.31 143.27L460.62 143.03L461.93 142.79L463.24 142.57L464.56 142.36L465.87 142.15L467.18 141.96L468.49 141.77L469.8 141.58L471.12 141.41L472.43 141.24L473.74 141.08L475.05 140.92L476.36 140.77L477.68 140.63L478.99 140.49L480.3 140.35L481.61 140.22L482.92 140.1L484.24 139.98L485.55 139.87L486.86 139.76L488.17 139.65L489.48 139.55L490.8 139.45L492.11 139.36L493.42 139.27L494.73 139.18L496.04 139.1L497.36 139.02L498.67 138.94L499.98 138.86L501.29 138.79L502.6 138.72L503.92 138.66L505.23 138.59L506.54 138.53" fill="none" stroke="#222" stroke-width="0.9"/>
<path d="M349.1 303.1L350.75 297.41L352.4 291.92L354.05 286.61L355.7 281.48L357.35 276.53L359.01 271.74L360.66 267.12L362.31 262.65L363.96 258.33L365.61 254.16L367.26 250.14L368.91 246.24L370.56 242.48L372.21 238.85L373.86 235.34L375.51 231.95L377.17 228.67L378.82 225.51L380.47 222.45L382.12 219.5L383.77 216.64L385.42 213.89L387.07 211.22L388.72 208.65L390.37 206.16L392.02 203.76L393.68 201.44L395.33 199.2L396.98 197.03L398.63 194.94L400.28 192.92L401.93 190.97L403.58 189.08L405.23 187.26L406.88 185.5L408.53 183.8L410.18 182.15L411.84 180.56L413.49 179.03L415.14 177.55L416.79 176.12L418.44 174.73L420.09 173.4L421.74 172.1L423.39 170.86L425.04 169.65L426.69 168.49L428.34 167.36L430 166.28L431.65 165.23L433.3 164.21L434.95 163.23L436.6 162.28L438.25 161.37L439.9 160.49L441.55 159.63L443.2 158.81L444.85 158.01L446.51 157.24L448.16 156.5L449.81 155.78L451.46 155.08L453.11 154.41L454.76 153.77L456.41 153.14L458.06 152.54L459.71 151.95L461.36 151.39L463.01 150.84L464.67 150.31L466.32 149.81L467.97 149.31L469.62 148.84L471.27 148.38L472.92 147.94L474.57 147.51L476.22 147.09L477.87 146.69L479.52 146.31L481.17 145.93L482.83 145.57L484.48 145.23L486.13 144.89L487.78 144.56L489.43 144.25L491.08 143.95L492.73 143.65L494.38 143.37L496.03 143.1L497.68 142.83L499.33 142.58L500.99 142.33L502.64 142.09L504.29 141.86L505.94 141.64L507.59 141.42L509.24 141.22L510.89 141.01L512.54 140.82L514.19 140.63L515.84 140.45L517.5 140.28L519.15 140.11L520.8 139.95L522.45 139.79L524.1 139.64L525.75 139.49L527.4 139.35L529.05 139.21L530.7 139.08L532.35 138.95L534 138.82L535.66 138.71L537.31 138.59L538.96 138.48L540.61 138.37L542.26 138.27L543.91 138.17L545.56 138.07L547.21 137.97" fill="none" stroke="#222" stroke-width="0.9"/>
<path d="M349.1 303.1L351.01 298.82L352.92 294.64L354.82 290.57L356.73 286.61L358.64 282.74L360.55 278.97L362.46 275.3L364.36 271.72L366.27 268.23L368.18 264.83L370.09 261.51L371.99 258.28L373.9 255.13L375.81 252.06L377.72 249.06L379.63 246.15L381.53 243.3L383.44 240.53L385.35 237.83L387.26 235.19L389.17 232.63L391.07 230.12L392.98 227.69L394.89 225.31L396.8 222.99L398.7 220.73L400.61 218.53L402.52 216.38L404.43 214.29L406.34 212.25L408.24 210.27L410.15 208.33L412.06 206.44L413.97 204.6L415.88 202.81L417.78 201.06L419.69 199.35L421.6 197.69L423.51 196.07L425.41 194.49L427.32 192.95L429.23 191.45L431.14 189.99L433.05 188.57L434.95 187.18L436.86 185.82L438.77 184.51L440.68 183.22L442.59 181.97L444.49 180.74L446.4 179.55L448.31 178.39L450.22 177.26L452.12 176.16L454.03 175.08L455.94 174.03L457.85 173.01L459.76 172.01L461.66 171.04L463.57 170.1L465.48 169.18L467.39 168.28L469.3 167.4L471.2 166.55L473.11 165.71L475.02 164.9L476.93 164.11L478.83 163.34L480.74 162.59L482.65 161.86L484.56 161.14L486.47 160.45L488.37 159.77L490.28 159.11L492.19 158.46L494.1 157.83L496.01 157.22L497.91 156.62L499.82 156.04L501.73 155.48L503.64 154.92L505.55 154.38L507.45 153.86L509.36 153.35L511.27 152.85L513.18 152.36L515.08 151.89L516.99 151.43L518.9 150.98L520.81 150.54L522.72 150.11L524.62 149.69L526.53 149.28L528.44 148.89L530.35 148.5L532.26 148.13L534.16 147.76L536.07 147.4L537.98 147.05L539.89 146.71L541.79 146.38L543.7 146.06L545.61 145.74L547.52 145.44L549.43 145.14L551.33 144.85L553.24 144.56L555.15 144.28L557.06 144.01L558.97 143.75L560.87 143.49L562.78 143.24L564.69 143L566.6 142.76L568.5 142.53L570.41 142.31L572.32 142.09L574.23 141.87L576.14 141.66L578.04 141.46" fill="none" stroke="#222" stroke-width="0.9"/>
<path d="M349.1 300.6L351.6 303.1L349.1 305.6L346.6 303.1Z" fill="#000"/><path d="M355.92 281.62L358.42 284.12L355.92 286.62L353.42 284.12Z" fill="#000"/><path d="M365.17 254.16L367.67 256.66L365.17 259.16L362.67 256.66Z" fill="#000"/><path d="M372.06 237.72L374.56 240.22L372.06 242.72L369.56 240.22Z" fill="#000"/><path d="M378.82 222.8L381.32 225.3L378.82 227.8L376.32 225.3Z" fill="#000"/><path d="M385.11 211.27L387.61 213.77L385.11 216.27L382.61 213.77Z" fill="#000"/><path d="M395.02 199.92L397.52 202.42L395.02 204.92L392.52 202.42Z" fill="#000"/><path d="M498.01 139.24L500.51 141.74L498.01 144.24L495.51 141.74Z" fill="#000"/><path d="M547.21 135.17L549.71 137.67L547.21 140.17L544.71 137.67Z" fill="#000"/>
<rect x="346.95" y="300.95" width="4.3" height="4.3" fill="#000"/><rect x="353.77" y="274" width="4.3" height="4.3" fill="#000"/><rect x="364.86" y="230.27" width="4.3" height="4.3" fill="#000"/><rect x="372.47" y="209.76" width="4.3" height="4.3" fill="#000"/><rect x="382.96" y="196.2" width="4.3" height="4.3" fill="#000"/><rect x="392.87" y="180.27" width="4.3" height="4.3" fill="#000"/><rect x="504.39" y="133.15" width="4.3" height="4.3" fill="#000"/>
<path d="M349.1 300.59L351.5 304.77L346.7 304.77Z" fill="#000"/><path d="M355.66 278.56L358.06 282.74L353.26 282.74Z" fill="#000"/><path d="M367.34 229.07L369.74 233.24L364.94 233.24Z" fill="#000"/><path d="M372.32 209.4L374.72 213.58L369.92 213.58Z" fill="#000"/><path d="M379.01 191.78L381.41 195.95L376.61 195.95Z" fill="#000"/><path d="M385.57 178.38L387.97 182.56L383.17 182.56Z" fill="#000"/><path d="M396.33 164.32L398.73 168.49L393.93 168.49Z" fill="#000"/><path d="M503.59 131.09L505.99 135.27L501.19 135.27Z" fill="#000"/>
<path d="M349.1 300.6L349.76 302.19L351.48 302.33L350.17 303.45L350.57 305.12L349.1 304.23L347.63 305.12L348.03 303.45L346.72 302.33L348.44 302.19Z" fill="#000"/><path d="M355.33 237.21L355.99 238.8L357.71 238.93L356.4 240.05L356.8 241.73L355.33 240.83L353.86 241.73L354.26 240.05L352.95 238.93L354.67 238.8Z" fill="#000"/><path d="M358.94 213.99L359.6 215.58L361.32 215.71L360.01 216.83L360.41 218.51L358.94 217.61L357.47 218.51L357.87 216.83L356.56 215.71L358.28 215.58Z" fill="#000"/><path d="M362.48 196.87L363.14 198.46L364.86 198.59L363.55 199.71L363.95 201.39L362.48 200.49L361.01 201.39L361.41 199.71L360.1 198.59L361.82 198.46Z" fill="#000"/><path d="M368.71 170.09L369.38 171.67L371.09 171.81L369.78 172.93L370.18 174.61L368.71 173.71L367.24 174.61L367.64 172.93L366.34 171.81L368.05 171.67Z" fill="#000"/><path d="M372.19 161.27L372.85 162.86L374.57 163L373.26 164.12L373.66 165.79L372.19 164.9L370.72 165.79L371.12 164.12L369.81 163L371.53 162.86Z" fill="#000"/><path d="M375.47 153.64L376.13 155.23L377.85 155.37L376.54 156.49L376.94 158.17L375.47 157.27L374 158.17L374.4 156.49L373.09 155.37L374.81 155.23Z" fill="#000"/><path d="M381.57 145.68L382.23 147.27L383.95 147.4L382.64 148.52L383.04 150.2L381.57 149.3L380.1 150.2L380.5 148.52L379.19 147.4L380.91 147.27Z" fill="#000"/><path d="M388.79 139.24L389.45 140.83L391.17 140.96L389.86 142.08L390.26 143.76L388.79 142.86L387.32 143.76L387.72 142.08L386.41 140.96L388.13 140.83Z" fill="#000"/><path d="M395.02 137.03L395.68 138.62L397.4 138.76L396.09 139.88L396.49 141.56L395.02 140.66L393.55 141.56L393.95 139.88L392.64 138.76L394.36 138.62Z" fill="#000"/>
<path d="M347.3 301.3L350.9 304.9M350.9 301.3L347.3 304.9" stroke="#000" stroke-width="1.2" fill="none"/><path d="M354.12 289.6L357.72 293.2M357.72 289.6L354.12 293.2" stroke="#000" stroke-width="1.2" fill="none"/><path d="M364.29 268.76L367.89 272.36M367.89 268.76L364.29 272.36" stroke="#000" stroke-width="1.2" fill="none"/><path d="M370.26 258.25L373.86 261.85M373.86 258.25L370.26 261.85" stroke="#000" stroke-width="1.2" fill="none"/><path d="M379.77 243.16L383.37 246.76M383.37 243.16L379.77 246.76" stroke="#000" stroke-width="1.2" fill="none"/><path d="M393.22 224.18L396.82 227.78M396.82 224.18L393.22 227.78" stroke="#000" stroke-width="1.2" fill="none"/><path d="M499.49 153.84L503.09 157.44M503.09 153.84L499.49 157.44" stroke="#000" stroke-width="1.2" fill="none"/><path d="M545.41 143.16L549.01 146.76M549.01 143.16L545.41 146.76" stroke="#000" stroke-width="1.2" fill="none"/>
<circle cx="349.1" cy="303.1" r="2.5" fill="#000"/>
<text x="475.8" y="221" text-anchor="middle" font-size="9.1" fill="#1a1a1a" transform="matrix(1 0 0.000524 1.04 -0.12 -8.84)">[peptide <tspan font-weight="bold">10b</tspan>] = 1 mM</text>
<text x="477" y="232.3" text-anchor="middle" font-size="9.3" fill="#1a1a1a" transform="matrix(1 0 0.000524 1.04 -0.12 -9.29)">20% AcOH, 0.1 M H<tspan font-size="6.5" dy="2.2">2</tspan><tspan dy="-2.2">NOH</tspan></text>
<path d="M385.1 253.1L387.6 255.6L385.1 258.1L382.6 255.6Z" fill="#000"/>
<text x="400.3" y="258.8" font-size="9.1" fill="#1a1a1a" transform="matrix(1 0 0.000524 1.04 -0.14 -10.35)">0.2 M aniline</text>
<rect x="382.95" y="263.3" width="4.3" height="4.3" fill="#000"/>
<text x="400.3" y="268.65" font-size="9.1" fill="#1a1a1a" transform="matrix(1 0 0.000524 1.04 -0.14 -10.75)">0.5 M aniline</text>
<path d="M385.1 272.79L387.5 276.97L382.7 276.97Z" fill="#000"/>
<text x="400.3" y="278.5" font-size="9.1" fill="#1a1a1a" transform="matrix(1 0 0.000524 1.04 -0.15 -11.14)">1 M aniline</text>
<path d="M385.1 282.65L385.76 284.24L387.48 284.38L386.17 285.5L386.57 287.17L385.1 286.27L383.63 287.17L384.03 285.5L382.72 284.38L384.44 284.24Z" fill="#000"/>
<text x="400.3" y="288.35" font-size="9.1" fill="#1a1a1a" transform="matrix(1 0 0.000524 1.04 -0.15 -11.53)">1 M aniline</text>
<path d="M383.3 293.2L386.9 296.8M386.9 293.2L383.3 296.8" stroke="#000" stroke-width="1.2" fill="none"/>
<text x="400.3" y="298.2" font-size="9.1" fill="#1a1a1a" transform="matrix(1 0 0.000524 1.04 -0.16 -11.93)">no aniline</text>
<path d="M475.7 252.5V277.7M479.4 281.8V290.3M476.4 291V298.2" stroke="#8a8a8a" stroke-width="0.8"/>
<text x="484.9" y="265.1" font-size="8.8" fill="#1a1a1a" textLength="50.3" lengthAdjust="spacingAndGlyphs" transform="matrix(1 0 0.000524 1.04 -0.14 -10.6)">pH 4.3, 37 °C</text>
<text x="484.9" y="287.2" font-size="8.8" fill="#1a1a1a" textLength="50.3" lengthAdjust="spacingAndGlyphs" transform="matrix(1 0 0.000524 1.04 -0.15 -11.49)">pH 4.3, 45 °C</text>
<text x="484.9" y="299.1" font-size="8.8" fill="#1a1a1a" textLength="20.8" lengthAdjust="spacingAndGlyphs" transform="matrix(1 0 0.000524 1.04 -0.16 -11.96)">37 °C</text>
<path d="M55.7 334.5H284.6V521.7H55.7Z" fill="none" stroke="#5c5c5c" stroke-width="1"/><path d="M55.7 521.7v3" stroke="#5c5c5c" stroke-width="0.9"/><text x="55.7" y="536.2" text-anchor="middle" font-size="9.2" fill="#1a1a1a" transform="matrix(1 0 0.000524 1.04 -0.28 -21.45)">0</text><path d="M101.48 521.7v3" stroke="#5c5c5c" stroke-width="0.9"/><text x="101.48" y="536.2" text-anchor="middle" font-size="9.2" fill="#1a1a1a" transform="matrix(1 0 0.000524 1.04 -0.28 -21.45)">5</text><path d="M147.26 521.7v3" stroke="#5c5c5c" stroke-width="0.9"/><text x="147.26" y="536.2" text-anchor="middle" font-size="9.2" fill="#1a1a1a" transform="matrix(1 0 0.000524 1.04 -0.28 -21.45)">10</text><path d="M193.04 521.7v3" stroke="#5c5c5c" stroke-width="0.9"/><text x="193.04" y="536.2" text-anchor="middle" font-size="9.2" fill="#1a1a1a" transform="matrix(1 0 0.000524 1.04 -0.28 -21.45)">15</text><path d="M238.82 521.7v3" stroke="#5c5c5c" stroke-width="0.9"/><text x="238.82" y="536.2" text-anchor="middle" font-size="9.2" fill="#1a1a1a" transform="matrix(1 0 0.000524 1.04 -0.28 -21.45)">20</text><path d="M284.6 521.7v3" stroke="#5c5c5c" stroke-width="0.9"/><text x="284.6" y="536.2" text-anchor="middle" font-size="9.2" fill="#1a1a1a" transform="matrix(1 0 0.000524 1.04 -0.28 -21.45)">25</text><path d="M55.7 521.7h-3" stroke="#5c5c5c" stroke-width="0.9"/><text x="48.9" y="525" text-anchor="end" font-size="9.2" fill="#1a1a1a" transform="matrix(1 0 0.000524 1.04 -0.28 -21)">0</text><path d="M55.7 487.66h-3" stroke="#5c5c5c" stroke-width="0.9"/><text x="48.9" y="490.96" text-anchor="end" font-size="9.2" fill="#1a1a1a" transform="matrix(1 0 0.000524 1.04 -0.26 -19.64)">20</text><path d="M55.7 453.62h-3" stroke="#5c5c5c" stroke-width="0.9"/><text x="48.9" y="456.92" text-anchor="end" font-size="9.2" fill="#1a1a1a" transform="matrix(1 0 0.000524 1.04 -0.24 -18.28)">40</text><path d="M55.7 419.58h-3" stroke="#5c5c5c" stroke-width="0.9"/><text x="48.9" y="422.88" text-anchor="end" font-size="9.2" fill="#1a1a1a" transform="matrix(1 0 0.000524 1.04 -0.22 -16.92)">60</text><path d="M55.7 385.54h-3" stroke="#5c5c5c" stroke-width="0.9"/><text x="48.9" y="388.84" text-anchor="end" font-size="9.2" fill="#1a1a1a" transform="matrix(1 0 0.000524 1.04 -0.2 -15.55)">80</text><path d="M55.7 351.5h-3" stroke="#5c5c5c" stroke-width="0.9"/><text x="48.9" y="354.8" text-anchor="end" font-size="9.2" fill="#1a1a1a" transform="matrix(1 0 0.000524 1.04 -0.19 -14.19)">100</text>
<text transform="translate(33.8 433.2) rotate(-90) skewX(0.03) scale(1 1.04)" text-anchor="middle" font-size="8.4" fill="#1a1a1a">Conversion (%)</text>
<text x="174.8" y="544.4" text-anchor="middle" font-size="8.9" fill="#1a1a1a" transform="matrix(1 0 0.000524 1.04 -0.29 -21.78)">time (h)</text>
<path d="M55.7 521.7L57.47 507.6L59.24 494.65L61.01 482.75L62.78 471.83L64.55 461.79L66.32 452.57L68.09 444.11L69.86 436.34L71.63 429.2L73.4 422.64L75.17 416.61L76.94 411.08L78.71 406L80.48 401.33L82.25 397.05L84.02 393.11L85.79 389.5L87.56 386.18L89.33 383.13L91.1 380.32L92.87 377.75L94.64 375.39L96.41 373.22L98.18 371.23L99.95 369.4L101.72 367.71L103.49 366.17L105.26 364.75L107.03 363.45L108.8 362.25L110.57 361.15L112.35 360.14L114.12 359.22L115.89 358.37L117.66 357.58L119.43 356.87L121.2 356.21L122.97 355.6L124.74 355.04L126.51 354.53L128.28 354.06L130.05 353.63L131.82 353.24L133.59 352.87L135.36 352.54L137.13 352.23L138.9 351.95L140.67 351.69L142.44 351.45L144.21 351.24L145.98 351.03L147.75 350.85L149.52 350.68L151.29 350.53L153.06 350.38L154.83 350.25L156.6 350.13L158.37 350.02L160.14 349.92L161.91 349.83L163.68 349.74L165.45 349.66L167.22 349.59L168.99 349.52L170.76 349.46L172.53 349.41L174.3 349.36L176.07 349.31L177.84 349.27L179.61 349.23L181.38 349.19L183.15 349.16L184.92 349.12L186.69 349.1L188.46 349.07L190.23 349.05L192 349.02L193.77 349L195.54 348.99L197.31 348.97L199.08 348.95L200.85 348.94L202.62 348.93L204.39 348.91L206.16 348.9L207.93 348.89L209.7 348.88L211.47 348.87L213.24 348.87L215.01 348.86L216.78 348.85L218.55 348.85L220.32 348.84L222.1 348.84L223.87 348.83L225.64 348.83L227.41 348.82L229.18 348.82L230.95 348.81L232.72 348.81L234.49 348.81L236.26 348.81L238.03 348.8L239.8 348.8L241.57 348.8L243.34 348.8L245.11 348.8L246.88 348.79L248.65 348.79L250.42 348.79L252.19 348.79L253.96 348.79L255.73 348.79L257.5 348.79L259.27 348.79L261.04 348.79L262.81 348.79L264.58 348.78L266.35 348.78L268.12 348.78" fill="none" stroke="#222" stroke-width="0.9"/>
<path d="M55.7 521.7L57.51 508.31L59.32 495.99L61.12 484.65L62.93 474.22L64.74 464.61L66.55 455.77L68.36 447.63L70.17 440.14L71.97 433.25L73.78 426.9L75.59 421.06L77.4 415.69L79.21 410.74L81.02 406.19L82.82 402L84.63 398.14L86.44 394.59L88.25 391.32L90.06 388.32L91.87 385.55L93.67 383L95.48 380.66L97.29 378.5L99.1 376.51L100.91 374.68L102.72 373L104.52 371.45L106.33 370.02L108.14 368.71L109.95 367.51L111.76 366.39L113.57 365.37L115.37 364.43L117.18 363.56L118.99 362.76L120.8 362.03L122.61 361.36L124.42 360.73L126.22 360.16L128.03 359.63L129.84 359.15L131.65 358.7L133.46 358.29L135.27 357.91L137.07 357.57L138.88 357.25L140.69 356.95L142.5 356.68L144.31 356.43L146.12 356.2L147.92 355.99L149.73 355.79L151.54 355.61L153.35 355.45L155.16 355.3L156.97 355.16L158.77 355.03L160.58 354.91L162.39 354.8L164.2 354.7L166.01 354.61L167.82 354.52L169.62 354.45L171.43 354.37L173.24 354.31L175.05 354.25L176.86 354.19L178.67 354.14L180.47 354.09L182.28 354.05L184.09 354.01L185.9 353.97L187.71 353.94L189.51 353.91L191.32 353.88L193.13 353.85L194.94 353.83L196.75 353.8L198.56 353.78L200.36 353.76L202.17 353.75L203.98 353.73L205.79 353.71L207.6 353.7L209.41 353.69L211.21 353.68L213.02 353.67L214.83 353.66L216.64 353.65L218.45 353.64L220.26 353.63L222.06 353.62L223.87 353.62L225.68 353.61L227.49 353.61L229.3 353.6L231.11 353.6L232.91 353.59L234.72 353.59L236.53 353.58L238.34 353.58L240.15 353.58L241.96 353.58L243.76 353.57L245.57 353.57L247.38 353.57L249.19 353.57L251 353.56L252.81 353.56L254.61 353.56L256.42 353.56L258.23 353.56L260.04 353.56L261.85 353.56L263.66 353.55L265.46 353.55L267.27 353.55L269.08 353.55L270.89 353.55L272.7 353.55" fill="none" stroke="#222" stroke-width="0.9"/>
<path d="M55.7 521.7L57.51 509.17L59.32 497.58L61.12 486.86L62.93 476.94L64.74 467.77L66.55 459.29L68.36 451.44L70.17 444.18L71.97 437.47L73.78 431.26L75.59 425.52L77.4 420.21L79.21 415.29L81.02 410.75L82.82 406.54L84.63 402.66L86.44 399.06L88.25 395.73L90.06 392.66L91.87 389.81L93.67 387.18L95.48 384.74L97.29 382.49L99.1 380.41L100.91 378.48L102.72 376.7L104.52 375.05L106.33 373.53L108.14 372.12L109.95 370.81L111.76 369.6L113.57 368.49L115.37 367.46L117.18 366.5L118.99 365.62L120.8 364.8L122.61 364.05L124.42 363.35L126.22 362.7L128.03 362.1L129.84 361.55L131.65 361.04L133.46 360.57L135.27 360.13L137.07 359.72L138.88 359.35L140.69 359L142.5 358.68L144.31 358.39L146.12 358.11L147.92 357.86L149.73 357.62L151.54 357.41L153.35 357.21L155.16 357.02L156.97 356.85L158.77 356.69L160.58 356.54L162.39 356.41L164.2 356.28L166.01 356.17L167.82 356.06L169.62 355.96L171.43 355.87L173.24 355.78L175.05 355.7L176.86 355.63L178.67 355.56L180.47 355.5L182.28 355.44L184.09 355.39L185.9 355.34L187.71 355.3L189.51 355.25L191.32 355.21L193.13 355.18L194.94 355.14L196.75 355.11L198.56 355.09L200.36 355.06L202.17 355.03L203.98 355.01L205.79 354.99L207.6 354.97L209.41 354.95L211.21 354.94L213.02 354.92L214.83 354.91L216.64 354.89L218.45 354.88L220.26 354.87L222.06 354.86L223.87 354.85L225.68 354.84L227.49 354.83L229.3 354.83L231.11 354.82L232.91 354.81L234.72 354.81L236.53 354.8L238.34 354.8L240.15 354.79L241.96 354.79L243.76 354.78L245.57 354.78L247.38 354.78L249.19 354.77L251 354.77L252.81 354.77L254.61 354.77L256.42 354.76L258.23 354.76L260.04 354.76L261.85 354.76L263.66 354.76L265.46 354.75L267.27 354.75L269.08 354.75L270.89 354.75L272.7 354.75" fill="none" stroke="#222" stroke-width="0.9"/>
<path d="M55.7 521.7L57.51 510.8L59.32 500.62L61.12 491.12L62.93 482.23L64.74 473.94L66.55 466.19L68.36 458.95L70.17 452.18L71.97 445.86L73.78 439.96L75.59 434.45L77.4 429.3L79.21 424.49L81.02 420L82.82 415.8L84.63 411.88L86.44 408.21L88.25 404.79L90.06 401.6L91.87 398.61L93.67 395.82L95.48 393.22L97.29 390.78L99.1 388.51L100.91 386.38L102.72 384.4L104.52 382.55L106.33 380.82L108.14 379.2L109.95 377.69L111.76 376.28L113.57 374.96L115.37 373.73L117.18 372.58L118.99 371.5L120.8 370.5L122.61 369.56L124.42 368.69L126.22 367.87L128.03 367.1L129.84 366.39L131.65 365.72L133.46 365.1L135.27 364.52L137.07 363.97L138.88 363.47L140.69 362.99L142.5 362.55L144.31 362.14L146.12 361.75L147.92 361.39L149.73 361.05L151.54 360.74L153.35 360.44L155.16 360.17L156.97 359.91L158.77 359.67L160.58 359.44L162.39 359.24L164.2 359.04L166.01 358.86L167.82 358.69L169.62 358.53L171.43 358.38L173.24 358.24L175.05 358.11L176.86 357.99L178.67 357.87L180.47 357.77L182.28 357.67L184.09 357.58L185.9 357.49L187.71 357.41L189.51 357.33L191.32 357.26L193.13 357.2L194.94 357.14L196.75 357.08L198.56 357.03L200.36 356.98L202.17 356.93L203.98 356.89L205.79 356.84L207.6 356.81L209.41 356.77L211.21 356.74L213.02 356.71L214.83 356.68L216.64 356.65L218.45 356.62L220.26 356.6L222.06 356.58L223.87 356.56L225.68 356.54L227.49 356.52L229.3 356.5L231.11 356.49L232.91 356.47L234.72 356.46L236.53 356.45L238.34 356.44L240.15 356.42L241.96 356.41L243.76 356.4L245.57 356.39L247.38 356.39L249.19 356.38L251 356.37L252.81 356.36L254.61 356.36L256.42 356.35L258.23 356.35L260.04 356.34L261.85 356.34L263.66 356.33L265.46 356.33L267.27 356.32L269.08 356.32L270.89 356.32L272.7 356.31" fill="none" stroke="#222" stroke-width="0.9"/>
<circle cx="55.7" cy="521.7" r="2.35" fill="#000"/><circle cx="66.5" cy="456" r="2.35" fill="#000"/><circle cx="83.17" cy="402.05" r="2.35" fill="#000"/><circle cx="94.7" cy="384.86" r="2.35" fill="#000"/><circle cx="106.61" cy="367.84" r="2.35" fill="#000"/><circle cx="121.62" cy="363.75" r="2.35" fill="#000"/><circle cx="272.7" cy="354.39" r="2.35" fill="#000"/>
<path d="M55.7 519.19L58.1 523.37L53.3 523.37Z" fill="#000"/><path d="M60.46 494.35L62.86 498.52L58.06 498.52Z" fill="#000"/><path d="M65.22 462.18L67.62 466.35L62.82 466.35Z" fill="#000"/><path d="M69.89 439.54L72.29 443.72L67.49 443.72Z" fill="#000"/><path d="M86.28 384.06L88.68 388.23L83.88 388.23Z" fill="#000"/><path d="M96.9 369.93L99.3 374.11L94.5 374.11Z" fill="#000"/><path d="M106.06 361.76L108.46 365.94L103.66 365.94Z" fill="#000"/><path d="M115.49 357.16L117.89 361.34L113.09 361.34Z" fill="#000"/><path d="M124.37 354.1L126.77 358.28L121.97 358.28Z" fill="#000"/><path d="M268.12 349.16L270.52 353.34L265.72 353.34Z" fill="#000"/>
<rect x="53.55" y="519.55" width="4.3" height="4.3" fill="#000"/><rect x="63.62" y="465.09" width="4.3" height="4.3" fill="#000"/><rect x="81.02" y="402.96" width="4.3" height="4.3" fill="#000"/><rect x="92.92" y="384.24" width="4.3" height="4.3" fill="#000"/><rect x="105.83" y="370.8" width="4.3" height="4.3" fill="#000"/><rect x="118.83" y="364.16" width="4.3" height="4.3" fill="#000"/><rect x="271.46" y="353.09" width="4.3" height="4.3" fill="#000"/>
<path d="M53.9 519.9L57.5 523.5M57.5 519.9L53.9 523.5" stroke="#000" stroke-width="1.2" fill="none"/><path d="M64.7 469.18L68.3 472.78M68.3 469.18L64.7 472.78" stroke="#000" stroke-width="1.2" fill="none"/><path d="M81.92 410.46L85.52 414.06M85.52 410.46L81.92 414.06" stroke="#000" stroke-width="1.2" fill="none"/><path d="M92.9 394.12L96.5 397.72M96.5 394.12L92.9 397.72" stroke="#000" stroke-width="1.2" fill="none"/><path d="M105.36 380.34L108.96 383.94M108.96 380.34L105.36 383.94" stroke="#000" stroke-width="1.2" fill="none"/><path d="M120.19 368.08L123.79 371.68M123.79 368.08L120.19 371.68" stroke="#000" stroke-width="1.2" fill="none"/><path d="M271.81 354.3L275.41 357.9M275.41 354.3L271.81 357.9" stroke="#000" stroke-width="1.2" fill="none"/>
<circle cx="55.7" cy="521.7" r="2.6" fill="#000"/>
<text x="193.8" y="420.1" text-anchor="middle" font-size="9.42" fill="#1a1a1a" transform="matrix(1 0 0.000524 1.04 -0.22 -16.8)">[peptide <tspan font-weight="bold">10</tspan>] = 1 mM</text>
<text x="193.8" y="431.1" text-anchor="middle" font-size="9.42" fill="#1a1a1a" transform="matrix(1 0 0.000524 1.04 -0.23 -17.24)">0.1 M hydroxylamine, 1 M aniline</text>
<text x="193.8" y="442.1" text-anchor="middle" font-size="9.42" fill="#1a1a1a" transform="matrix(1 0 0.000524 1.04 -0.23 -17.68)">2.8 M Gn.HCl, 20% AcOH</text>
<text x="193.8" y="453.1" text-anchor="middle" font-size="9.42" fill="#1a1a1a" transform="matrix(1 0 0.000524 1.04 -0.24 -18.12)">pH 4.3, 45 °C</text>
<circle cx="155.7" cy="468.4" r="2.35" fill="#000"/>
<text x="173.4" y="472.3" font-size="10" fill="#1a1a1a" transform="matrix(1 0 0.000524 1.04 -0.25 -18.89)"><tspan font-weight="bold">10a</tspan> (Gly)</text>
<path d="M155.7 477.24L158.1 481.42L153.3 481.42Z" fill="#000"/>
<text x="173.4" y="483.65" font-size="10" fill="#1a1a1a" transform="matrix(1 0 0.000524 1.04 -0.25 -19.35)"><tspan font-weight="bold">10b</tspan> (Ala)</text>
<rect x="153.55" y="488.95" width="4.3" height="4.3" fill="#000"/>
<text x="173.4" y="495" font-size="10" fill="#1a1a1a" transform="matrix(1 0 0.000524 1.04 -0.26 -19.8)"><tspan font-weight="bold">10c</tspan> (Ile)</text>
<path d="M153.9 500.65L157.5 504.25M157.5 500.65L153.9 504.25" stroke="#000" stroke-width="1.2" fill="none"/>
<text x="173.4" y="506.35" font-size="10" fill="#1a1a1a" transform="matrix(1 0 0.000524 1.04 -0.27 -20.25)"><tspan font-weight="bold">10d</tspan> (C(S<tspan font-style="italic">t</tspan>Bu))</text>
<path d="M347.4 334.4H576.8V521.6H347.4Z" fill="none" stroke="#5c5c5c" stroke-width="1"/><path d="M347.4 521.6v3" stroke="#5c5c5c" stroke-width="0.9"/><text x="347.4" y="537.2" text-anchor="middle" font-size="9.2" fill="#1a1a1a" transform="matrix(1 0 0.000524 1.04 -0.28 -21.49)">0</text><path d="M393.28 521.6v3" stroke="#5c5c5c" stroke-width="0.9"/><text x="393.28" y="537.2" text-anchor="middle" font-size="9.2" fill="#1a1a1a" transform="matrix(1 0 0.000524 1.04 -0.28 -21.49)">10</text><path d="M439.16 521.6v3" stroke="#5c5c5c" stroke-width="0.9"/><text x="439.16" y="537.2" text-anchor="middle" font-size="9.2" fill="#1a1a1a" transform="matrix(1 0 0.000524 1.04 -0.28 -21.49)">20</text><path d="M485.04 521.6v3" stroke="#5c5c5c" stroke-width="0.9"/><text x="485.04" y="537.2" text-anchor="middle" font-size="9.2" fill="#1a1a1a" transform="matrix(1 0 0.000524 1.04 -0.28 -21.49)">30</text><path d="M530.92 521.6v3" stroke="#5c5c5c" stroke-width="0.9"/><text x="530.92" y="537.2" text-anchor="middle" font-size="9.2" fill="#1a1a1a" transform="matrix(1 0 0.000524 1.04 -0.28 -21.49)">40</text><path d="M576.8 521.6v3" stroke="#5c5c5c" stroke-width="0.9"/><text x="576.8" y="537.2" text-anchor="middle" font-size="9.2" fill="#1a1a1a" transform="matrix(1 0 0.000524 1.04 -0.28 -21.49)">50</text><path d="M347.4 521.6h-3" stroke="#5c5c5c" stroke-width="0.9"/><text x="340.2" y="524.9" text-anchor="end" font-size="9.2" fill="#1a1a1a" transform="matrix(1 0 0.000524 1.04 -0.28 -21)">0</text><path d="M347.4 487.56h-3" stroke="#5c5c5c" stroke-width="0.9"/><text x="340.2" y="490.86" text-anchor="end" font-size="9.2" fill="#1a1a1a" transform="matrix(1 0 0.000524 1.04 -0.26 -19.63)">20</text><path d="M347.4 453.52h-3" stroke="#5c5c5c" stroke-width="0.9"/><text x="340.2" y="456.82" text-anchor="end" font-size="9.2" fill="#1a1a1a" transform="matrix(1 0 0.000524 1.04 -0.24 -18.27)">40</text><path d="M347.4 419.48h-3" stroke="#5c5c5c" stroke-width="0.9"/><text x="340.2" y="422.78" text-anchor="end" font-size="9.2" fill="#1a1a1a" transform="matrix(1 0 0.000524 1.04 -0.22 -16.91)">60</text><path d="M347.4 385.44h-3" stroke="#5c5c5c" stroke-width="0.9"/><text x="340.2" y="388.74" text-anchor="end" font-size="9.2" fill="#1a1a1a" transform="matrix(1 0 0.000524 1.04 -0.2 -15.55)">80</text><path d="M347.4 351.4h-3" stroke="#5c5c5c" stroke-width="0.9"/><text x="340.2" y="354.7" text-anchor="end" font-size="9.2" fill="#1a1a1a" transform="matrix(1 0 0.000524 1.04 -0.19 -14.19)">100</text>
<text transform="translate(326.8 429.9) rotate(-90) skewX(0.03) scale(1 1.04)" text-anchor="middle" font-size="9.0" fill="#1a1a1a">Conversion&#160;&#160;(%)</text>
<text x="464" y="545.9" text-anchor="middle" font-size="8.9" fill="#1a1a1a" transform="matrix(1 0 0.000524 1.04 -0.29 -21.84)">time (h)</text>
<path d="M347.4 521.6L348.52 518.75L349.63 515.94L350.75 513.18L351.87 510.47L352.98 507.8L354.1 505.18L355.21 502.6L356.33 500.06L357.45 497.57L358.56 495.12L359.68 492.71L360.8 490.34L361.91 488.01L363.03 485.72L364.15 483.47L365.26 481.25L366.38 479.07L367.5 476.93L368.61 474.83L369.73 472.76L370.84 470.72L371.96 468.72L373.08 466.75L374.19 464.82L375.31 462.92L376.43 461.05L377.54 459.21L378.66 457.4L379.78 455.62L380.89 453.88L382.01 452.16L383.13 450.47L384.24 448.81L385.36 447.17L386.47 445.57L387.59 443.99L388.71 442.43L389.82 440.91L390.94 439.41L392.06 437.93L393.17 436.48L394.29 435.05L395.41 433.65L396.52 432.27L397.64 430.92L398.76 429.58L399.87 428.27L400.99 426.98L402.1 425.71L403.22 424.47L404.34 423.24L405.45 422.04L406.57 420.85L407.69 419.69L408.8 418.54L409.92 417.42L411.04 416.31L412.15 415.22L413.27 414.15L414.38 413.1L415.5 412.06L416.62 411.05L417.73 410.05L418.85 409.06L419.97 408.1L421.08 407.15L422.2 406.21L423.32 405.29L424.43 404.39L425.55 403.5L426.67 402.63L427.78 401.77L428.9 400.92L430.01 400.09L431.13 399.28L432.25 398.47L433.36 397.68L434.48 396.91L435.6 396.14L436.71 395.39L437.83 394.66L438.95 393.93L440.06 393.22L441.18 392.52L442.3 391.83L443.41 391.15L444.53 390.48L445.64 389.83L446.76 389.18L447.88 388.55L448.99 387.93L450.11 387.31L451.23 386.71L452.34 386.12L453.46 385.54L454.58 384.96L455.69 384.4L456.81 383.85L457.92 383.3L459.04 382.77L460.16 382.24L461.27 381.73L462.39 381.22L463.51 380.72L464.62 380.23L465.74 379.74L466.86 379.27L467.97 378.8L469.09 378.34L470.21 377.89L471.32 377.44L472.44 377.01L473.55 376.58L474.67 376.16L475.79 375.74L476.9 375.33L478.02 374.93L479.14 374.54L480.25 374.15L481.37 373.77" fill="none" stroke="#687070" stroke-width="2.0"/>
<path d="M347.4 521.6L348.52 518.75L349.63 515.94L350.75 513.18L351.87 510.47L352.98 507.8L354.1 505.18L355.21 502.6L356.33 500.06L357.45 497.57L358.56 495.12L359.68 492.71L360.8 490.34L361.91 488.01L363.03 485.72L364.15 483.47L365.26 481.25L366.38 479.07L367.5 476.93L368.61 474.83L369.73 472.76L370.84 470.72L371.96 468.72L373.08 466.75L374.19 464.82L375.31 462.92L376.43 461.05L377.54 459.21L378.66 457.4L379.78 455.62L380.89 453.88L382.01 452.16L383.13 450.47L384.24 448.81L385.36 447.17L386.47 445.57L387.59 443.99L388.71 442.43L389.82 440.91L390.94 439.41L392.06 437.93L393.17 436.48L394.29 435.05L395.41 433.65L396.52 432.27L397.64 430.92L398.76 429.58L399.87 428.27L400.99 426.98L402.1 425.71L403.22 424.47L404.34 423.24L405.45 422.04L406.57 420.85L407.69 419.69L408.8 418.54L409.92 417.42L411.04 416.31L412.15 415.22L413.27 414.15L414.38 413.1L415.5 412.06L416.62 411.05L417.73 410.05L418.85 409.06L419.97 408.1L421.08 407.15L422.2 406.21L423.32 405.29L424.43 404.39L425.55 403.5L426.67 402.63L427.78 401.77L428.9 400.92L430.01 400.09L431.13 399.28L432.25 398.47L433.36 397.68L434.48 396.91L435.6 396.14L436.71 395.39L437.83 394.66L438.95 393.93L440.06 393.22L441.18 392.52L442.3 391.83L443.41 391.15L444.53 390.48L445.64 389.83L446.76 389.18L447.88 388.55L448.99 387.93L450.11 387.31L451.23 386.71L452.34 386.12L453.46 385.54L454.58 384.96L455.69 384.4L456.81 383.85L457.92 383.3L459.04 382.77L460.16 382.24L461.27 381.73L462.39 381.22L463.51 380.72L464.62 380.23L465.74 379.74L466.86 379.27L467.97 378.8L469.09 378.34L470.21 377.89L471.32 377.44L472.44 377.01L473.55 376.58L474.67 376.16L475.79 375.74L476.9 375.33L478.02 374.93L479.14 374.54L480.25 374.15L481.37 373.77" fill="none" stroke="#2a2a2a" stroke-width="0.8"/>
<circle cx="347.4" cy="521.6" r="2.4" fill="none" stroke="#000" stroke-width="0.8"/><circle cx="352.72" cy="512.58" r="2.4" fill="none" stroke="#000" stroke-width="0.8"/><circle cx="356.48" cy="498.62" r="2.4" fill="none" stroke="#000" stroke-width="0.8"/><circle cx="361.49" cy="487.05" r="2.4" fill="none" stroke="#000" stroke-width="0.8"/><circle cx="366.39" cy="476.67" r="2.4" fill="none" stroke="#000" stroke-width="0.8"/><circle cx="370.2" cy="469.18" r="2.4" fill="none" stroke="#000" stroke-width="0.8"/><circle cx="374.61" cy="461.52" r="2.4" fill="none" stroke="#000" stroke-width="0.8"/><circle cx="446.04" cy="390.38" r="2.4" fill="none" stroke="#000" stroke-width="0.8"/><circle cx="465.31" cy="381.7" r="2.4" fill="none" stroke="#000" stroke-width="0.8"/><circle cx="482.75" cy="369.27" r="2.4" fill="none" stroke="#000" stroke-width="0.8"/>
<path d="M347.4 518.99L349.9 523.34L344.9 523.34Z" fill="none" stroke="#000" stroke-width="0.9"/><path d="M351.9 514.56L354.4 518.91L349.4 518.91Z" fill="none" stroke="#000" stroke-width="0.9"/><path d="M356.48 504.35L358.98 508.7L353.98 508.7Z" fill="none" stroke="#000" stroke-width="0.9"/><path d="M361.99 488.52L364.49 492.87L359.49 492.87Z" fill="none" stroke="#000" stroke-width="0.9"/><path d="M366.39 474.06L368.89 478.41L363.89 478.41Z" fill="none" stroke="#000" stroke-width="0.9"/><path d="M370.34 466.23L372.84 470.58L367.84 470.58Z" fill="none" stroke="#000" stroke-width="0.9"/><path d="M443.75 384.19L446.25 388.54L441.25 388.54Z" fill="none" stroke="#000" stroke-width="0.9"/><path d="M465.77 377.72L468.27 382.07L463.27 382.07Z" fill="none" stroke="#000" stroke-width="0.9"/><path d="M480.45 373.64L482.95 377.99L477.95 377.99Z" fill="none" stroke="#000" stroke-width="0.9"/>
<text x="485" y="425.6" text-anchor="middle" font-size="9.4" fill="#1a1a1a" transform="matrix(1 0 0.000524 1.04 -0.22 -17.02)">0.1 M hydroxylamine, 1 M aniline</text>
<text x="485" y="436.6" text-anchor="middle" font-size="9.4" fill="#1a1a1a" transform="matrix(1 0 0.000524 1.04 -0.23 -17.46)">6 M Gn.HCl, 20% AcOH</text>
<text x="485" y="447.6" text-anchor="middle" font-size="9.4" fill="#1a1a1a" transform="matrix(1 0 0.000524 1.04 -0.23 -17.9)">pH 4.3, 45 °C</text>
<circle cx="393.9" cy="483.6" r="2.4" fill="none" stroke="#000" stroke-width="0.8"/>
<path d="M393.9 492.99L396.4 497.34L391.4 497.34Z" fill="#fff" stroke="#000" stroke-width="0.9"/>
<text x="412.4" y="487.9" font-size="9.9" font-weight="bold" fill="#1a1a1a" textLength="51.5" lengthAdjust="spacingAndGlyphs" transform="matrix(1 0 0.000524 1.04 -0.26 -19.52)">12b -&gt; 15b</text>
<text x="412.4" y="499.3" font-size="9.9" font-weight="bold" fill="#1a1a1a" textLength="36.9" lengthAdjust="spacingAndGlyphs" transform="matrix(1 0 0.000524 1.04 -0.26 -19.97)">13 -&gt; 16</text>
</svg>
</body></html>
